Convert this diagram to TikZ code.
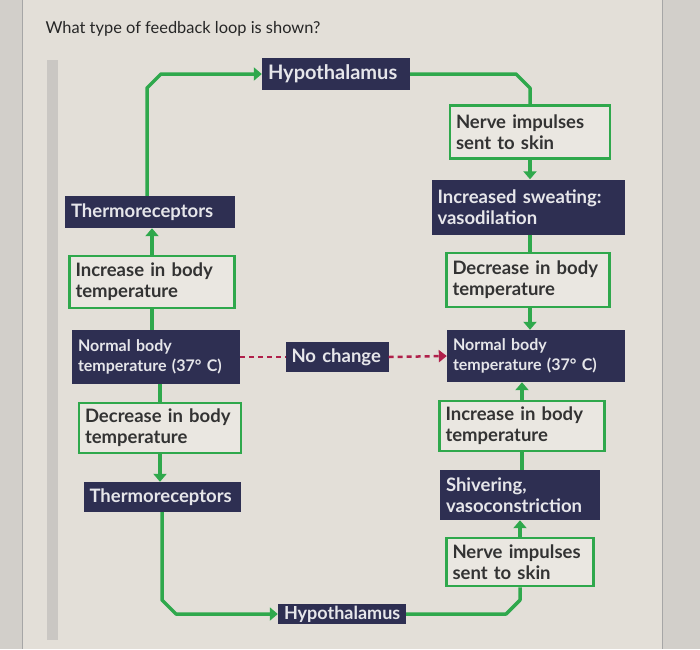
\documentclass[tikz,border=0pt]{standalone}
\usepackage{fontspec}
\setmainfont{Lato}
\usetikzlibrary{arrows.meta}
\definecolor{navy}{HTML}{2E2F52}
\definecolor{grn}{HTML}{2FA84C}
\definecolor{dred}{HTML}{B0204A}
\definecolor{paper}{HTML}{E3DFD8}
\definecolor{outer}{HTML}{D2CFCA}
\definecolor{boxbg}{HTML}{EAE7E1}
\definecolor{ltxt}{HTML}{E6E6EA}
\definecolor{dtxt}{HTML}{333333}
\tikzset{
  dbox/.style={fill=navy, text=ltxt, font=\bfseries\fontsize{18.5}{21}\selectfont, align=left, inner xsep=6pt, inner ysep=3pt, anchor=center},
  gbox/.style={fill=boxbg, draw=grn, line width=2.5pt, text=dtxt, font=\bfseries\fontsize{18.5}{21}\selectfont, align=left, inner xsep=6pt, inner ysep=3pt, anchor=center},
  small/.style={font=\bfseries\fontsize{16}{20}\selectfont},
  link/.style={draw=grn, line width=3.5pt},
  arr/.style={link, -{Triangle[width=13pt,length=8pt]}},
  dlink/.style={draw=dred, line width=2.5pt, dash pattern=on 5pt off 4pt},
  darr/.style={dlink, -{Triangle[width=12pt,length=8pt]}}
}
\begin{document}
\begin{tikzpicture}[x=1pt,y=-1pt]
\useasboundingbox (0,0) rectangle (700,649);
\fill[outer] (0,0) rectangle (700,649);
\fill[paper] (22,0) rectangle (662,649);
\draw[gray!70, line width=0.8pt] (22,0) -- (22,649) (662,0) -- (662,649);
\fill[outer!90!gray] (47,60) rectangle (58,640);
\node[anchor=west, text=black!85, font=\fontsize{16.4}{19}\selectfont] (title) at (42,29) {What type of feedback loop is shown?};

% right column
\node[dbox, font=\bfseries\fontsize{20}{22}\selectfont, text width=136pt, minimum height=32pt] (hypT) at (336,74) {Hypothalamus};
\node[gbox, text width=148pt, minimum height=53pt] (nerveT) at (530,132) {Nerve impulses\\sent to skin};
\node[dbox, text width=181pt, minimum height=55pt] (sweat) at (528,207) {Increased sweating:\\vasodilation};
\node[gbox, text width=151pt, minimum height=54pt] (decR) at (528,280) {Decrease in body\\temperature};
\node[dbox, small, text width=166pt, minimum height=52pt] (normR) at (536,356) {Normal body\\temperature (37° C)};
\node[gbox, text width=153pt, minimum height=50pt] (incR) at (522,426) {Increase in body\\temperature};
\node[dbox, text width=148pt, minimum height=50pt] (shiv) at (520,495) {Shivering,\\vasoconstriction};
\node[gbox, text width=135pt, minimum height=48pt] (nerveB) at (520,562) {Nerve impulses\\sent to skin};
\node[dbox, font=\bfseries\fontsize{18}{20}\selectfont, text width=116pt, minimum height=20pt, inner ysep=0pt] (hypB) at (342,614) {Hypothalamus};

% left column
\node[dbox, text width=158pt, minimum height=32pt] (thermT) at (150,212) {Thermoreceptors};
\node[gbox, text width=153pt, minimum height=52pt] (incL) at (152,282) {Increase in body\\temperature};
\node[dbox, small, text width=156pt, minimum height=54pt] (normL) at (156,357) {Normal body\\temperature (37° C)};
\node[dbox, text width=91pt, minimum height=30pt] (noch) at (337,357) {No change};
\node[gbox, text width=150pt, minimum height=50pt] (decL) at (160,428) {Decrease in body\\temperature};
\node[dbox, text width=145pt, minimum height=30pt] (thermB) at (162,497) {Thermoreceptors};

% loop corners
\coordinate (c1) at (147,88);
\coordinate (c2) at (161,74);
\coordinate (c3) at (516,74);
\coordinate (c4) at (530,88);
\coordinate (c5) at (162,600);
\coordinate (c6) at (176,614);
\coordinate (c7) at (520,600);
\coordinate (c8) at (506,614);

\draw[arr, line join=round] (thermT.north -| c1) -- (c1) -- (c2) -- (hypT.west);
\draw[link, line join=round] (hypT.east) -- (c3) -- (c4) -- (nerveT.north -| c4);
\draw[arr] (nerveT.south -| c4) -- (sweat.north -| c4);
\draw[link] (sweat.south -| c4) -- (decR.north -| c4);
\draw[arr] (decR.south -| c4) -- (normR.north -| c4);
\draw[arr] (incR.north) -- (incR.north |- normR.south);
\draw[link] (shiv.north -| incR.south) -- (incR.south);
\draw[arr] (nerveB.north) -- (nerveB.north |- shiv.south);
\draw[link, line join=round] (nerveB.south) -- (c7) -- (c8) -- (hypB.east);

\draw[arr] (incL.north) -- (incL.north |- thermT.south);
\draw[link] (normL.north -| incL.north) -- (incL.south);
\draw[link] (normL.south -| decL.north) -- (decL.north);
\draw[arr] (decL.south) -- (decL.south |- thermB.north);
\draw[arr, line join=round] (thermB.south) -- (c5) -- (c6) -- (hypB.west);

\draw[dlink] (normL.east) -- (noch.west);
\draw[darr] (noch.east) -- (normR.west);
\end{tikzpicture}
\end{document}
